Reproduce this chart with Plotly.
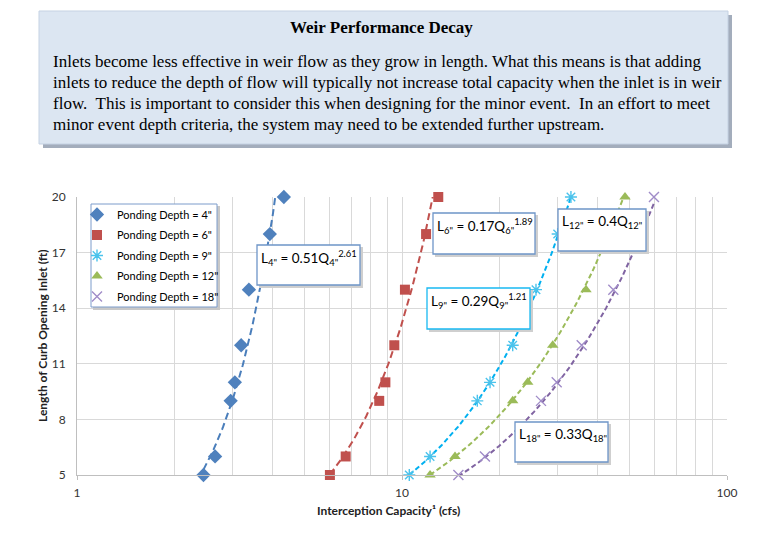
import numpy as np
import plotly.graph_objects as go

# ---------------- data ----------------
length_ft = [5, 6, 9, 10, 12, 15, 18, 20]
q_4in = [2.45, 2.66, 2.97, 3.06, 3.20, 3.38, 3.92, 4.33]
q_6in = [6.00, 6.71, 8.51, 8.89, 9.47, 10.21, 11.86, 12.93]
q_9in = [10.53, 12.20, 17.05, 18.66, 21.91, 25.84, 30.13, 33.10]
q_12in = [12.20, 14.56, 21.91, 24.37, 29.09, 36.83, 43.50, 48.55]
q_18in = [14.91, 18.00, 26.77, 29.92, 35.72, 44.69, 54.50, 59.60]

series_names = ['Ponding Depth = 4"', 'Ponding Depth = 6"', 'Ponding Depth = 9"',
                'Ponding Depth = 12"', 'Ponding Depth = 18"']
trend_coef = [0.51, 0.17, 0.29, 0.40, 0.33]
trend_exp = [2.61, 1.89, 1.21, 1.01, 1.00]
trend_labels = ['L<sub>4"</sub> = 0.51Q<sub>4"</sub><sup>2.61</sup>',
                'L<sub>6"</sub> = 0.17Q<sub>6"</sub><sup>1.89</sup>',
                'L<sub>9"</sub> = 0.29Q<sub>9"</sub><sup>1.21</sup>',
                'L<sub>12"</sub> = 0.4Q<sub>12"</sub>',
                'L<sub>18"</sub> = 0.33Q<sub>18"</sub>']
y_ticks = [5, 8, 11, 14, 17, 20]
x_ticks = [1, 10, 100]
x_ticklabels = ['1', '10', '100']

title_text = "Weir Performance Decay"
body_lines = [
    "Inlets become less effective in weir flow as they grow in length. What this means is that adding",
    "inlets to reduce the depth of flow will typically not increase total capacity when the inlet is in weir",
    "flow.  This is important to consider this when designing for the minor event.  In an effort to meet",
    "minor event depth criteria, the system may need to be extended further upstream.",
]

# ---------------- styles ----------------
q_series = [q_4in, q_6in, q_9in, q_12in, q_18in]
marker_colors = ['#4F81BD', '#C0504D', '#4BC3EC', '#9BBB59', '#A08CC8']
line_colors = ['#4A7EBB', '#C0504D', '#00B0F0', '#9BBB59', '#8064A2']
symbols = ['diamond', 'square', 'asterisk-open', 'triangle-up', 'x-thin-open']
sizes = [11, 10, 10, 10, 10]
dashes = ['7px,4px', '7px,4px', '5px,3px', '5px,3px', '5px,3px']

# page geometry: the browser body has an 8px margin
OFF = 8
W, H = 768 - 2 * OFF, 533 - 2 * OFF
PL, PR, PT, PB = 77, 727, 197, 475   # plot area in page pixels


def px(x):
    return (x - PL) / (PR - PL)


def py(y):
    return (PB - y) / (PB - PT)


fig = go.Figure()

for i in range(5):
    q = np.array(q_series[i])
    qq = np.geomspace(q.min(), q.max(), 120)
    ll = trend_coef[i] * qq ** trend_exp[i]
    fig.add_trace(go.Scatter(x=qq, y=ll, mode='lines', showlegend=False, hoverinfo='skip',
                             line=dict(color=line_colors[i], width=2, dash=dashes[i])))

for i in range(5):
    mk = dict(symbol=symbols[i], size=sizes[i], color=marker_colors[i])
    if symbols[i].endswith('open'):
        mk['line'] = dict(color=marker_colors[i], width=1.4)
    fig.add_trace(go.Scatter(x=q_series[i], y=length_ft, mode='markers', name=series_names[i],
                             marker=mk, legendgroup=str(i), cliponaxis=False))

shapes = []
annotations = []

# title box with shadow
shapes.append(dict(type='rect', xref='paper', yref='paper', x0=px(43), x1=px(732), y0=py(148), y1=py(15),
                   fillcolor='#A3ADBC', line=dict(width=0), layer='above'))
shapes.append(dict(type='rect', xref='paper', yref='paper', x0=px(39), x1=px(728), y0=py(144), y1=py(11),
                   fillcolor='#DCE6F2', line=dict(color='#C5D2E3', width=1), layer='above'))
annotations.append(dict(text='<b>' + title_text + '</b>', xref='paper', yref='paper', x=px(381), y=py(27),
                        xanchor='center', yanchor='middle', showarrow=False,
                        font=dict(family='Liberation Serif', size=17, color='black')))
for k, line in enumerate(body_lines):
    annotations.append(dict(text=line, xref='paper', yref='paper', x=px(51), y=py(62 + 20.7 * k),
                            xanchor='left', yanchor='middle', showarrow=False,
                            font=dict(family='Liberation Serif', size=17, color='black')))

# legend box (drawn as shapes, legend itself transparent)
shapes.append(dict(type='rect', xref='paper', yref='paper', x0=px(93), x1=px(220), y0=py(310), y1=py(206),
                   fillcolor='#C8C8C8', line=dict(width=0), layer='above'))
shapes.append(dict(type='rect', xref='paper', yref='paper', x0=px(91), x1=px(217), y0=py(307), y1=py(204),
                   fillcolor='white', line=dict(color='#7C9CCB', width=1), layer='above'))

# trendline label boxes
label_boxes = [(257, 360, 245, 285), (433, 535, 213, 254), (427, 530, 288, 329),
               (558, 646, 209, 251), (515, 608, 422, 462)]
label_borders = ['#6E95C8', '#6E95C8', '#19B9F2', '#6E95C8', '#6E95C8']
for (x0, x1, y0, y1), bc, txt in zip(label_boxes, label_borders, trend_labels):
    shapes.append(dict(type='rect', xref='paper', yref='paper', x0=px(x0 + 2), x1=px(x1 + 3),
                       y0=py(y1 + 3), y1=py(y0 + 2), fillcolor='#CFCFCF', line=dict(width=0), layer='above'))
    shapes.append(dict(type='rect', xref='paper', yref='paper', x0=px(x0), x1=px(x1),
                       y0=py(y1), y1=py(y0), fillcolor='white', line=dict(color=bc, width=1.3), layer='above'))
    annotations.append(dict(text=txt, xref='paper', yref='paper', x=px(x0 + 2), y=py(y0 + 13),
                            xanchor='left', yanchor='middle', showarrow=False,
                            font=dict(family='Lato', size=13.5, color='black')))

# axis titles
annotations.append(dict(text='<b>Length of Curb Opening Inlet (ft)</b>', xref='paper', yref='paper',
                        x=px(42), y=py(336), textangle=-90, showarrow=False, xanchor='center', yanchor='middle',
                        font=dict(family='Lato', size=12, color='#222222')))
annotations.append(dict(text='<b>Interception Capacity¹ (cfs)</b>', xref='paper', yref='paper',
                        x=px(388), y=py(510), showarrow=False, xanchor='center', yanchor='middle',
                        font=dict(family='Lato', size=12, color='#222222')))

fig.update_layout(
    width=W, height=H, autosize=False,
    margin=dict(l=PL - OFF, r=W - (PR - OFF), t=PT - OFF, b=H - (PB - OFF), pad=0),
    paper_bgcolor='white', plot_bgcolor='white',
    showlegend=True,
    legend=dict(x=px(77), y=py(200), xanchor='left', yanchor='top', bgcolor='rgba(0,0,0,0)',
                borderwidth=0, font=dict(family='Lato', size=11, color='black'), tracegroupgap=1.5),
    shapes=shapes, annotations=annotations,
    xaxis=dict(type='log', range=[0, 2], tickvals=x_ticks, ticktext=x_ticklabels,
               showgrid=True, gridcolor='#D9D9D9', gridwidth=1, zeroline=False,
               showline=True, linecolor='#BFBFBF', linewidth=1,
               ticks='outside', ticklen=4, tickcolor='#BFBFBF', ticklabelstandoff=3,
               minor=dict(dtick='D1', showgrid=True, gridcolor='#D9D9D9', ticks=''),
               tickfont=dict(family='Lato', size=12, color='#333333')),
    yaxis=dict(range=[5, 20], tickvals=y_ticks, showgrid=True, gridcolor='#D9D9D9', gridwidth=1,
               zeroline=False, showline=True, linecolor='#BFBFBF', linewidth=1, ticks='',
               ticklabelstandoff=8,
               tickfont=dict(family='Lato', size=12, color='#333333')),
)

fig.write_html('out.html')
